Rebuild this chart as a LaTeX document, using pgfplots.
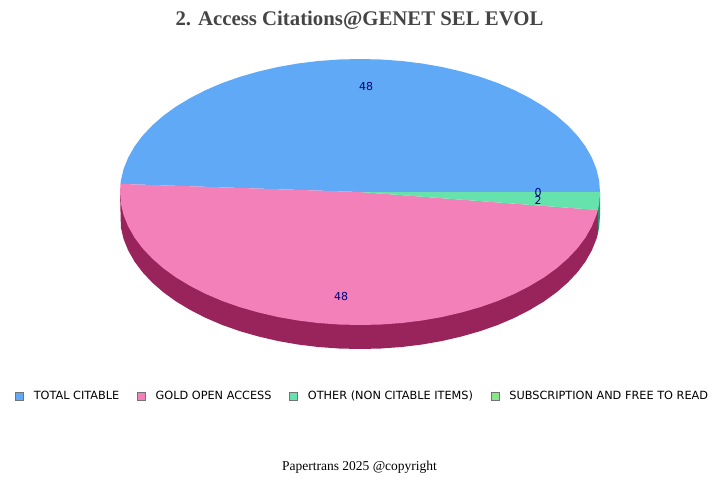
\documentclass[border=0pt]{standalone}
\usepackage{pgfplots}
\usepackage{fontspec}
\pgfplotsset{compat=1.18}
\setmainfont{Liberation Serif}
\newfontfamily\legendfont{DejaVu Sans}
\definecolor{citable}{HTML}{60A9F6}
\definecolor{gold}{HTML}{F480BA}
\definecolor{golddark}{HTML}{99245C}
\definecolor{other}{HTML}{66E2AC}
\definecolor{otherdark}{HTML}{1F9A63}
\definecolor{subscr}{HTML}{88E688}
\pgfplotsset{
  sq/.style={legend image code/.code={
    \draw[##1,draw=black!55,line width=0.8pt] (0pt,-4pt) rectangle (8pt,4pt);}},
}
\begin{document}
\begin{tikzpicture}
\begin{axis}[
    width=720pt, height=480pt, scale only axis,
    xmin=0.5, xmax=720.5, ymin=0, ymax=480,
    y dir=reverse,
    hide axis,
    clip=false,
    legend columns=4,
    legend style={
        at={(0.5035,0.175)}, anchor=center,
        draw=none, fill=none,
        font=\legendfont\fontsize{11.3}{13}\selectfont,
        /tikz/every odd column/.append style={column sep=8pt},
        /tikz/every even column/.append style={column sep=15.5pt},
    },
]
% keeps the whole frame in the page
\path (rel axis cs:0,0) rectangle (rel axis cs:1,1);
% side of the disc
\addplot[forget plot, fill=golddark, draw=none] coordinates {
 (120.5,192) (121.4,227.6) (124.1,239.1) (128.7,250.4) (135.0,261.5) (143.0,272.2)
 (152.7,282.5) (163.9,292.3) (176.6,301.5) (190.8,310.0) (206.2,317.9) (222.8,325.0)
 (240.5,331.2) (259.1,336.5) (278.4,341.0) (298.4,344.5) (318.8,347.0) (339.6,348.5)
 (360.5,349) (381.4,348.5) (402.2,347.0) (422.6,344.5) (442.6,341.0) (461.9,336.5)
 (480.5,331.2) (498.2,325.0) (514.8,317.9) (530.2,310.0) (544.4,301.5) (557.1,292.3)
 (568.3,282.5) (578.0,272.2) (586.0,261.5) (592.3,250.4) (596.9,239.1) (598.3,234)
 (598.3,210)} -- cycle;
\addplot[forget plot, fill=otherdark, draw=none] coordinates {
 (598.3,210) (598.3,234) (599.6,227.6) (600.5,216) (600.5,192)} -- cycle;
% TOTAL CITABLE, 48
\addplot[sq, fill=citable, draw=none] coordinates {
 (360.5,192) (600.5,192) (599.6,180.4) (596.9,168.9) (592.3,157.6) (586.0,146.5)
 (578.0,135.8) (568.3,125.5) (557.1,115.7) (544.4,106.5) (530.2,98.0) (514.8,90.1)
 (498.2,83.0) (480.5,76.8) (461.9,71.5) (442.6,67.0) (422.6,63.5) (402.2,61.0)
 (381.4,59.5) (360.5,59) (339.6,59.5) (318.8,61.0) (298.4,63.5) (278.4,67.0)
 (259.1,71.5) (240.5,76.8) (222.8,83.0) (206.2,90.1) (190.8,98.0) (176.6,106.5)
 (163.9,115.7) (152.7,125.5) (143.0,135.8) (135.0,146.5) (128.7,157.6) (124.1,168.9)
 (121.4,180.4) (121.0,183.9)} -- cycle;
\addlegendentry{TOTAL CITABLE}
% GOLD OPEN ACCESS, 48
\addplot[sq, fill=gold, draw=none] coordinates {
 (360.5,192) (121.0,183.9) (120.5,192) (121.4,203.6) (124.1,215.1) (128.7,226.4)
 (135.0,237.5) (143.0,248.2) (152.7,258.5) (163.9,268.3) (176.6,277.5) (190.8,286.0)
 (206.2,293.9) (222.8,301.0) (240.5,307.2) (259.1,312.5) (278.4,317.0) (298.4,320.5)
 (318.8,323.0) (339.6,324.5) (360.5,325) (381.4,324.5) (402.2,323.0) (422.6,320.5)
 (442.6,317.0) (461.9,312.5) (480.5,307.2) (498.2,301.0) (514.8,293.9) (530.2,286.0)
 (544.4,277.5) (557.1,268.3) (568.3,258.5) (578.0,248.2) (586.0,237.5) (592.3,226.4)
 (596.9,215.1) (598.3,210.0)} -- cycle;
\addlegendentry{GOLD OPEN ACCESS}
% OTHER (NON CITABLE ITEMS), 2
\addplot[sq, fill=other, draw=none] coordinates {
 (360.5,192) (598.3,210.0) (599.6,203.6) (600.5,192)} -- cycle;
\addlegendentry{OTHER (NON CITABLE ITEMS)}
% SUBSCRIPTION AND FREE TO READ, 0
\addplot[sq, fill=subscr, draw=none] coordinates {
 (360.5,192) (600.5,192)};
\addlegendentry{SUBSCRIPTION AND FREE TO READ}
% value labels
\addplot[forget plot, only marks, mark=none, point meta=explicit symbolic,
    nodes near coords, nodes near coords align=center,
    every node near coord/.append style={
        font=\legendfont\fontsize{11}{13}\selectfont, text=black!30!blue!70!black, inner sep=0pt},
] table [x=x, y=y, meta=v] {
x y v
366.5 86.5 48
341.5 296.5 48
538.5 200.5 2
538.5 192.5 0
};
\node[font=\bfseries\fontsize{20.8}{25}\selectfont, text=black!73] at (axis cs:360,20) {2. Access Citations@GENET SEL EVOL};
\node[font=\fontsize{13.5}{16}\selectfont] at (axis cs:360,467.5) {Papertrans 2025 @copyright};
\end{axis}
\end{tikzpicture}
\end{document}
